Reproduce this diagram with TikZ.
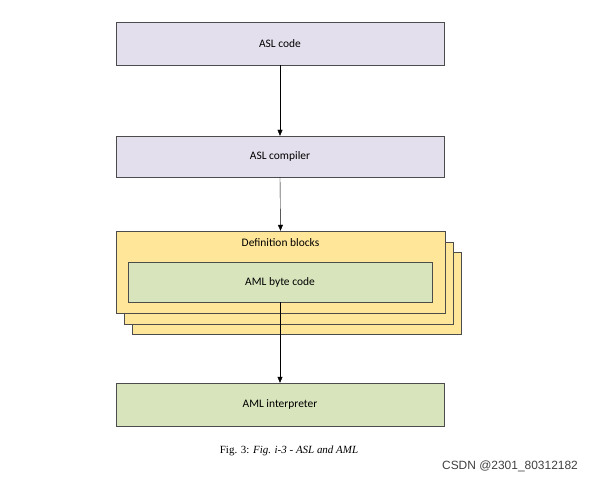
\documentclass[tikz,border=0pt]{standalone}
\usepackage{fontspec}
\setmainfont{Carlito}
\newfontfamily\capfont{Liberation Serif}
\newfontfamily\wmfont{Liberation Sans}
\usetikzlibrary{arrows.meta,positioning}
\definecolor{clrPurple}{HTML}{E4DFEC}
\definecolor{clrGreen}{HTML}{D8E4BC}
\definecolor{clrYellow}{HTML}{FFE699}
\tikzset{
  box_style/.style={draw=black!70, anchor=center, text centered, font=\fontsize{11.5}{13}\selectfont},
  stage/.style={box_style, minimum width=328bp, minimum height=43bp},
  asl/.style={stage, fill=clrPurple},
  aml/.style={stage, fill=clrGreen},
  block/.style={box_style, fill=clrYellow, minimum width=329bp, minimum height=82bp},
  myarrow/.style={-{Triangle[length=6bp,width=5bp]}, draw=black, thin}
}
\begin{document}
\begin{tikzpicture}[x=1bp,y=-1bp]
  \useasboundingbox (0,0) rectangle (607,484);

  \node[asl] (A) at (280,43.5) {ASL code} ;
  \node[asl, minimum height=41bp] (B) at (280,156.5) {ASL compiler} ;

  % stacked definition blocks
  \node[block] (S2) at (296.5,293) {} ;
  \node[block] (S1) at (288.5,283) {} ;
  \node[block] (D) at (280.5,272) {} ;
  \node[font=\fontsize{11.5}{13}\selectfont] (Dt) at (280.5,243) {Definition blocks} ;
  \node[aml, minimum width=304bp, minimum height=40bp] (C) at (280,282) {AML byte code} ;

  \node[aml] (E) at (280,404.5) {AML interpreter} ;

  \draw[myarrow] (A) -- (B) ;
  \draw[myarrow] (B.south) -- (D.north) ;
  \draw[myarrow] (C) -- (E) ;

  \node[font=\capfont\fontsize{11}{13}\selectfont] (cap) at (289,451) {Fig. 3: \textit{Fig. i-3 - ASL and AML}} ;
  \node[font=\wmfont\fontsize{12}{14}\selectfont, text=black!75] (wm) at (510,466) {CSDN @2301\_80312182} ;
\end{tikzpicture}
\end{document}
